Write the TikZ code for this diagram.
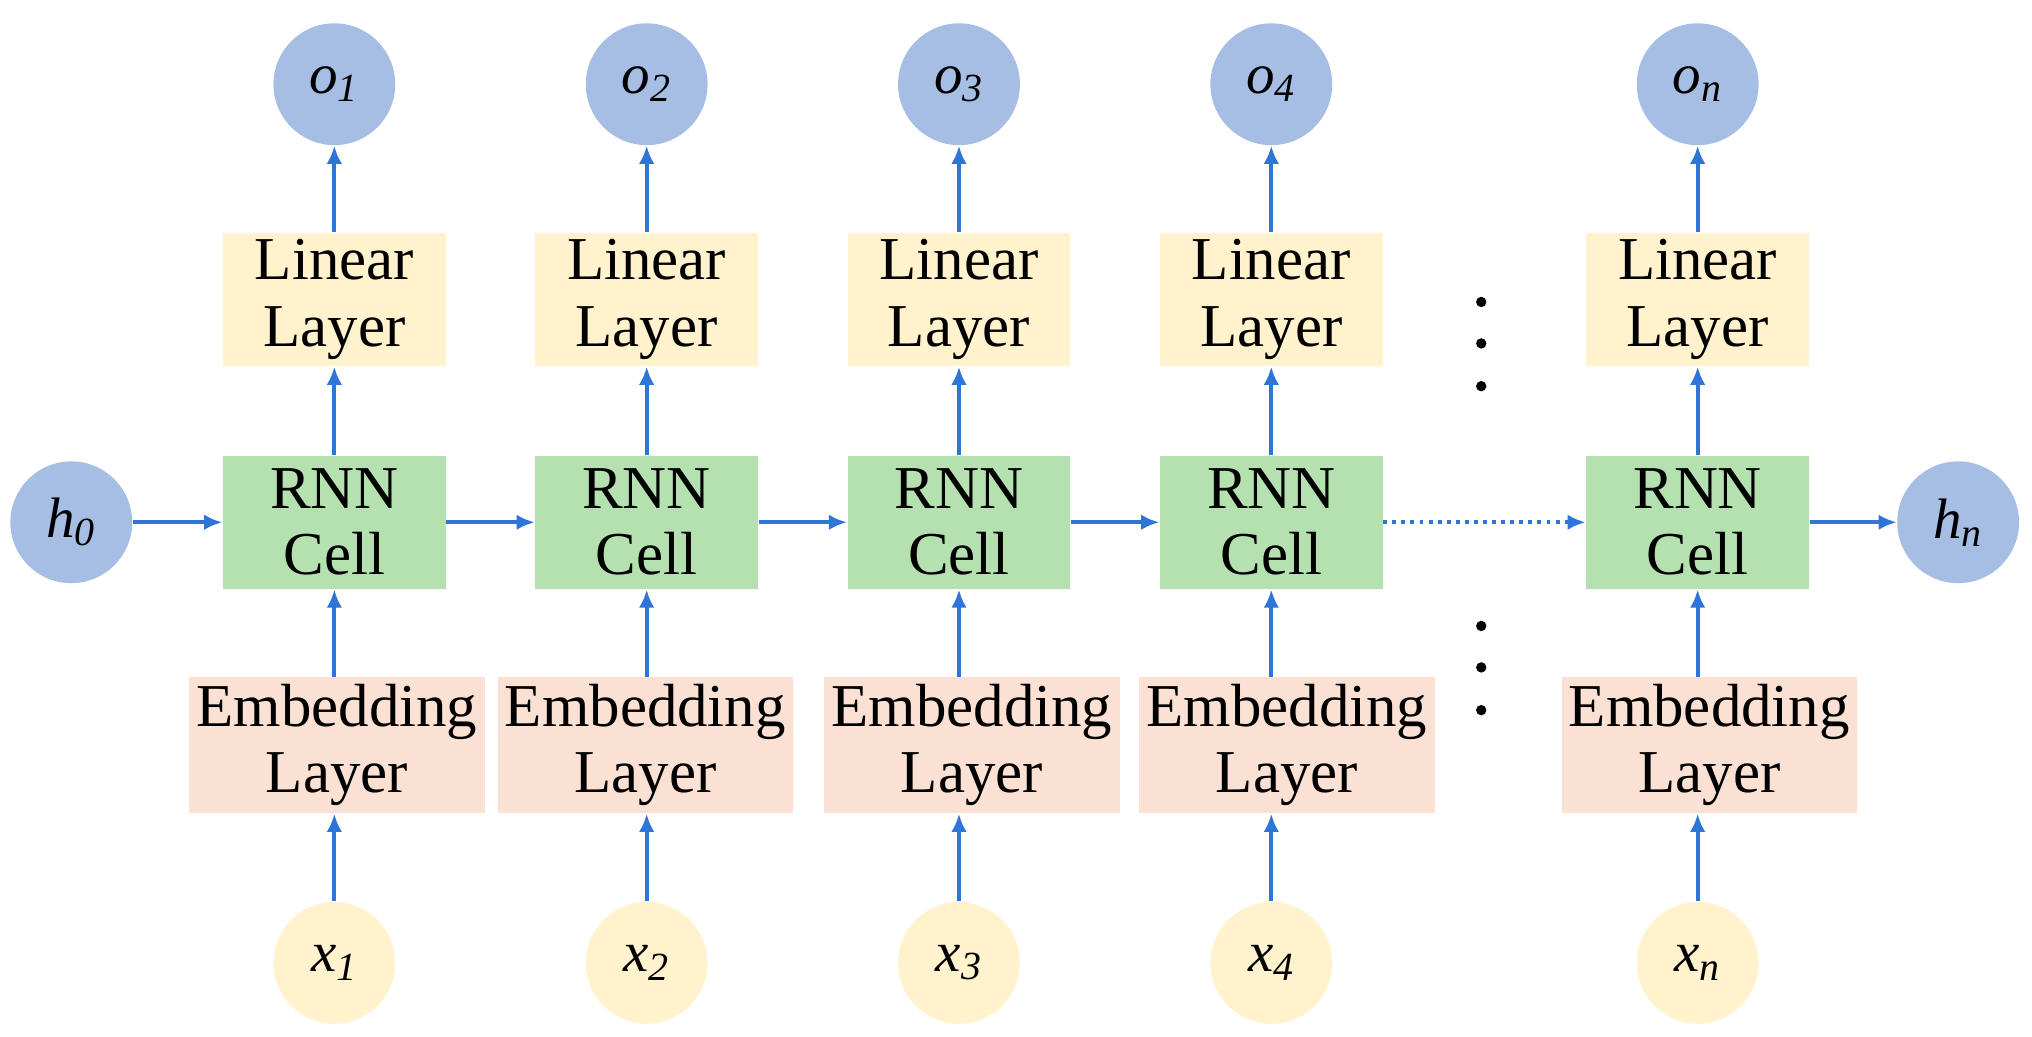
\documentclass[tikz,border=0pt]{standalone}
\usepackage{fontspec}
\setmainfont{Liberation Serif}
\usetikzlibrary{arrows.meta}
\begin{document}
\begin{tikzpicture}[x=0.5pt,y=-0.5pt,
  circ/.style={circle,minimum size=47pt,inner sep=0pt,font=\fontsize{22}{24}\selectfont\itshape},
  oc/.style={circ,fill=cblue},
  xc/.style={circ,fill=cyel},
  box/.style={minimum width=86pt,minimum height=51.5pt,inner sep=0pt,align=center,font=\fontsize{23.5}{25.5}\selectfont},
  lin/.style={box,fill=cyel},
  rnn/.style={box,fill=cgreen},
  emb/.style={box,fill=cpink,minimum width=114pt,minimum height=52.5pt},
  arr/.style={-{Latex[length=7pt,width=6pt]},line width=1.5pt,draw=carr},
  dot/.style={circle,fill=black,inner sep=0pt,minimum size=4pt}]
\definecolor{cblue}{RGB}{166,190,228}
\definecolor{cyel}{RGB}{255,242,204}
\definecolor{cgreen}{RGB}{181,225,176}
\definecolor{cpink}{RGB}{251,225,211}
\definecolor{carr}{RGB}{46,117,214}
\useasboundingbox (0,0) rectangle (1568,800);
\foreach \i/\x/\ex/\s in {1/258/260/1,2/499/498/2,3/740/750/3,4/981/993/4,5/1310/1319/n}{
  \node[oc] (o\i) at (\x,65) {o\textsubscript{\s}};
  \node[lin] (l\i) at (\x,231) {Linear\\Layer};
  \node[rnn] (r\i) at (\x,403) {RNN\\Cell};
  \node[emb] (e\i) at (\ex,575) {Embedding\\Layer};
  \node[xc] (x\i) at (\x,743) {x\textsubscript{\s}};
  \draw[arr] (x\i) -- (x\i|-e\i.south);
  \draw[arr] (e\i.north-|x\i) -- (r\i);
  \draw[arr] (r\i) -- (l\i);
  \draw[arr] (l\i) -- (o\i);
}
\node[oc] (h0) at (55,403) {h\textsubscript{0}};
\node[oc] (hn) at (1511,403) {h\textsubscript{n}};
\draw[arr] (h0) -- (r1);
\draw[arr] (r1) -- (r2);
\draw[arr] (r2) -- (r3);
\draw[arr] (r3) -- (r4);
\draw[arr,dotted] (r4) -- (r5);
\draw[arr] (r5) -- (hn);
\foreach \y [count=\k] in {233,265,298,483,515,548} \node[dot] (d\k) at (1143,\y) {};
\end{tikzpicture}
\end{document}
